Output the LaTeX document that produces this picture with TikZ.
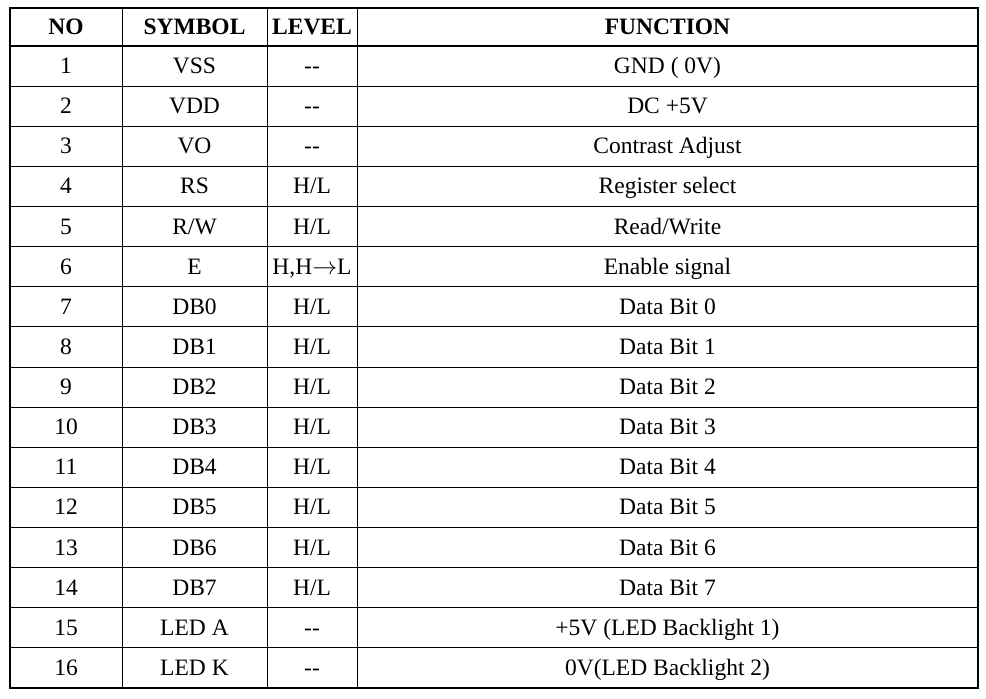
\documentclass[tikz,border=0pt]{standalone}
\usepackage{fontspec}
\setmainfont{Liberation Serif}[Ligatures=NoCommon]
\begin{document}
\begin{tikzpicture}[x=1pt,y=-1pt,
  cell/.style={font=\fontsize{23.5}{26}\selectfont, anchor=center, inner sep=0pt, text height=15pt, text depth=4pt},
  head/.style={cell, font=\fontsize{23.5}{26}\selectfont\bfseries},
  grid/.style={line width=1pt}]
\useasboundingbox (0,0) rectangle (986,699);
\def\xa{10}\def\xb{122}\def\xc{267}\def\xd{357}\def\xe{978}
\def\ytop{8}\def\yh{46}\def\rh{40.125}
\foreach \i in {1,...,15} \draw[grid] (\xa,\yh+\i*\rh) -- (\xe,\yh+\i*\rh);
\draw[line width=1.5pt] (\xa,\yh) -- (\xe,\yh);
\foreach \x in {\xb,\xc,\xd} \draw[grid] (\x,\ytop) -- (\x,\yh+16*\rh);
\draw[line width=2pt] (\xa,\ytop) rectangle (\xe,\yh+16*\rh);
\node[head] (h1) at (66,28.5) {NO};
\node[head] (h2) at (194.5,28.5) {SYMBOL};
\node[head] (h3) at (312,28.5) {LEVEL};
\node[head] (h4) at (667.5,28.5) {FUNCTION};
\foreach \n/\s/\l/\f [count=\i] in {
 1/VSS/{-{}-}/{GND ( 0V)},
 2/VDD/{-{}-}/{DC +5V},
 3/VO/{-{}-}/{Contrast Adjust},
 4/RS/H\slash L/{Register select},
 5/R\slash W/H\slash L/{Read/Write},
 6/E/{H,H$\rightarrow$L}/{Enable signal},
 7/DB0/H\slash L/{Data Bit 0},
 8/DB1/H\slash L/{Data Bit 1},
 9/DB2/H\slash L/{Data Bit 2},
 10/DB3/H\slash L/{Data Bit 3},
 11/DB4/H\slash L/{Data Bit 4},
 12/DB5/H\slash L/{Data Bit 5},
 13/DB6/H\slash L/{Data Bit 6},
 14/DB7/H\slash L/{Data Bit 7},
 15/LED A/{-{}-}/{+5V (LED Backlight 1)},
 16/LED K/{-{}-}/{0V(LED Backlight 2)}} {
  \pgfmathsetmacro{\yy}{\yh+(\i-0.5)*\rh+2}
  \node[cell] (n\i) at (66,\yy) {\n};
  \node[cell] (s\i) at (194.5,\yy) {\s};
  \node[cell] (l\i) at (312,\yy) {\l};
  \node[cell] (f\i) at (667.5,\yy) {\f};
}
\end{tikzpicture}
\end{document}
